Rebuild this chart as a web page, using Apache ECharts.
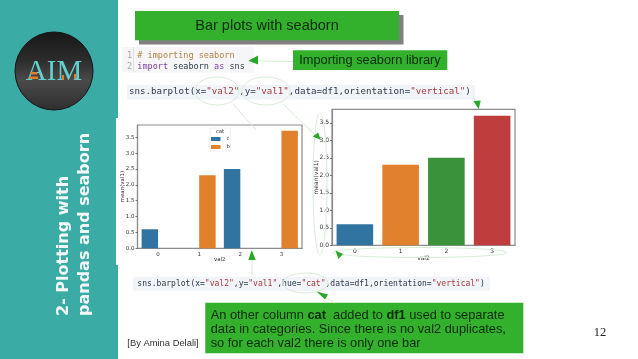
<!DOCTYPE html>
<html>
<head>
<meta charset="utf-8">
<style>html,body{margin:0;padding:0;background:#fff}#c{width:638px;height:359px}</style>
<script src="https://cdn.jsdelivr.net/npm/echarts@6/dist/echarts.min.js"></script>
</head>
<body>
<div id="c"></div>
<script>
const categories = ['0', '1', '2', '3'];
const val1 = [0.6, 2.3, 2.5, 3.7];
const hueC = [0.6, null, 2.5, null];
const hueB = [null, 2.3, null, 3.7];
const yTicks = [0, 0.5, 1, 1.5, 2, 2.5, 3, 3.5];
const yMax = 3.885;
const palette = ['#3274a1', '#e1812c', '#3a923a', '#c03d3e'];

const GREEN = '#33b02c', PALE = '#d6eed6', ARROW = '#2aa82a', SPINE = '#8c8c8c', AXT = '#333';
const SANS = '"Liberation Sans", sans-serif', MONO = '"DejaVu Sans Mono", monospace', DV = '"DejaVu Sans", sans-serif';
const rect = (x, y, w, h, fill, extra) => ({type:'rect', shape:{x, y, width:w, height:h}, style:Object.assign({fill}, extra||{}), silent:true});
const text = (x, y, t, st, extra) => Object.assign({type:'text', x, y, silent:true, style:Object.assign({text:t, verticalAlign:'middle', textAlign:'left'}, st)}, extra||{});
const tri = (p) => ({type:'polygon', shape:{points:p}, style:{fill:ARROW}, z:20, silent:true});
const ell = (cx, cy, rx, ry) => ({type:'ellipse', shape:{cx, cy, rx, ry}, style:{fill:null, stroke:PALE, lineWidth:1}, z:5, silent:true});
const seg = (x1, y1, x2, y2) => ({type:'line', shape:{x1, y1, x2, y2}, style:{stroke:PALE, lineWidth:1}, z:5, silent:true});

const codeRich = (size) => ({
  n:{fontFamily:MONO, fontSize:size, fill:'#2b3a4a'},
  s:{fontFamily:MONO, fontSize:size, fill:'#a8383a'},
  c:{fontFamily:MONO, fontSize:size, fill:'#b5823f'},
  k:{fontFamily:MONO, fontSize:size, fill:'#7a3ea0'}
});
const boxRich = {
  r:{fontFamily:SANS, fontSize:12.8, fill:'#0b2b0b'},
  b:{fontFamily:SANS, fontSize:12.8, fontWeight:'bold', fill:'#0b2b0b'}
};

const graphics = [
  // sidebar
  rect(0, 0, 118, 359, '#3aaba5'),
  rect(116, 118, 2, 147, '#ffffff'),
  // logo
  {type:'circle', shape:{cx:54, cy:71, r:39}, silent:true,
   style:{stroke:'#141414', lineWidth:1, fill:{type:'linear', x:0, y:0, x2:0, y2:1, colorStops:[
     {offset:0, color:'#171717'}, {offset:0.35, color:'#2b2b2b'}, {offset:0.62, color:'#4a4a4a'}, {offset:1, color:'#2e2e2e'}]}}},
  text(54, 72, 'AIM', {fontFamily:'"Liberation Serif", serif', fontSize:29, fill:'#62cfcd', textAlign:'center'}),
  rect(30.5, 72, 6.5, 2.5, '#e27d2c'), rect(29.5, 76.5, 8.5, 2.5, '#e27d2c'),
  rect(62, 75, 2, 5, '#e27d2c'), rect(74, 74, 2, 5, '#e27d2c'),
  // sidebar title
  text(63.5, 316, '2- Plotting with', {fontFamily:DV, fontWeight:'bold', fontSize:16, fill:'#f2f8f7'}, {rotation:Math.PI/2}),
  text(84.5, 316, 'pandas and seaborn', {fontFamily:DV, fontWeight:'bold', fontSize:16, fill:'#f2f8f7'}, {rotation:Math.PI/2}),
  // title box
  rect(139, 15, 264.5, 29.5, '#808080'),
  rect(135, 11, 264, 29.3, GREEN),
  text(267, 26, 'Bar plots with seaborn', {fontFamily:SANS, fontSize:14.5, fill:'#0b2b0b', textAlign:'center'}),
  // import code
  rect(122, 47, 132, 25.5, '#f6f6f8'),
  rect(133, 47, 0.8, 25.5, '#dcdcdc'),
  text(127, 56, '1', {fontFamily:MONO, fontSize:8.5, fill:'#a8a8a8'}),
  text(127, 66.5, '2', {fontFamily:MONO, fontSize:8.5, fill:'#a8a8a8'}),
  text(137.3, 56, '{c|# importing seaborn}', {rich:codeRich(8.5)}),
  text(137.3, 66.5, '{k|import}{n| seaborn }{k|as}{n| sns}', {rich:codeRich(8.5)}),
  // import label
  rect(293, 50.3, 154.3, 19.7, GREEN),
  text(370, 60.5, 'Importing seaborn library', {fontFamily:SANS, fontSize:12.8, fill:'#0b2b0b', textAlign:'center'}),
  seg(257, 61, 293, 61.5),
  tri([[248.3, 60.7], [258, 55.5], [258, 64.5]]),
  // first code
  rect(127, 85, 348, 14.5, '#f1f4f9'),
  text(129, 92, '{n|sns.barplot(x=}{s|"val2"}{n|,y=}{s|"val1"}{n|,data=df1,orientation=}{s|"vertical"}{n|)}', {rich:codeRich(9.17)}),
  // second code
  rect(133, 276.7, 357, 14, '#f1f4f9'),
  text(137.3, 283.5, '{n|sns.barplot(x=}{s|"val2"}{n|,y=}{s|"val1"}{n|,hue=}{s|"cat"}{n|,data=df1,orientation=}{s|"vertical"}{n|)}', {rich:codeRich(8.03)}),
  // explanation box
  rect(205.3, 302.7, 318, 50.6, GREEN),
  text(210.7, 315, '{r|An other column }{b|cat}{r|  added to }{b|df1}{r| used to separate}', {rich:boxRich}),
  text(210.7, 329.3, '{r|data in categories. Since there is no val2 duplicates,}', {rich:boxRich}),
  text(210.7, 343.7, '{r|so for each val2 there is only one bar}', {rich:boxRich}),
  text(127.3, 343, '[By Amina Delali]', {fontFamily:SANS, fontSize:9.4, fill:'#333'}),
  text(600, 333, '12', {fontFamily:'"Liberation Serif", serif', fontSize:12.5, fill:'#222', textAlign:'center'}),
  // annotation ellipses and connectors
  ell(217, 91, 22, 14), ell(266, 91, 24, 14),
  ell(320, 184, 7, 71), ell(420, 252.5, 87, 5), ell(305.5, 283, 22.5, 10),
  seg(283, 104, 314, 134), seg(233, 104, 256, 130),
  seg(252, 260, 252, 275), seg(326, 298, 335, 303), seg(475, 100, 473, 96),
  // arrowheads
  tri([[478.7, 109.3], [473.3, 101], [480.7, 100.5]]),
  tri([[251.7, 250], [248.3, 260], [255.7, 260]]),
  tri([[321, 140], [312.7, 136.5], [318, 132.5]]),
  tri([[335.5, 250.5], [343, 254], [338.5, 259]]),
  tri([[325, 299.5], [316.5, 291.5], [328, 294.5]]),
  // legend frame and title
  Object.assign(rect(210, 128, 20.5, 23, '#ffffff', {stroke:'#ececec', lineWidth:0.8}), {z:3}),
  text(220, 131.7, 'cat', {fontFamily:DV, fontSize:5.3, fill:AXT, textAlign:'center'}, {z:6})
];

const xAxisFor = (grid, size, gap) => ({
  type:'category', gridIndex:grid, data:categories, name:'val2', nameLocation:'middle', nameGap:gap, nameMoveOverlap:false,
  nameTextStyle:{fontFamily:DV, fontSize:size, color:AXT},
  axisLine:{lineStyle:{color:SPINE, width:1.2}},
  axisTick:{alignWithLabel:true, length:2, lineStyle:{color:'#444', width:0.7}},
  axisLabel:{fontFamily:DV, fontSize:size, color:AXT, margin:3}
});
const yAxisFor = (grid, size, gap) => ({
  type:'value', gridIndex:grid, min:0, max:yMax, interval:0.5, name:'mean(val1)', nameLocation:'middle', nameGap:gap, nameMoveOverlap:false,
  nameTextStyle:{fontFamily:DV, fontSize:size, color:AXT},
  splitLine:{show:false},
  axisLine:{show:true, lineStyle:{color:SPINE, width:1.2}},
  axisTick:{show:true, length:2, customValues:yTicks, lineStyle:{color:'#444', width:0.7}},
  axisLabel:{fontFamily:DV, fontSize:size, color:AXT, margin:3, customValues:yTicks, formatter:(v) => v.toFixed(1)}
});

const chart = echarts.init(document.getElementById('c'), null, {renderer:'canvas', width:638, height:359});
chart.setOption({
  animation:false,
  backgroundColor:'#ffffff',
  graphic:graphics.map(g => g.z === undefined ? Object.assign({z:-1}, g) : g),
  grid:[
    {left:137.5, top:125, width:164.5, height:123.3, show:true, borderColor:SPINE, borderWidth:1.2, backgroundColor:'#fff'},
    {left:332, top:109.3, width:183, height:136, show:true, borderColor:SPINE, borderWidth:1.2, backgroundColor:'#fff'}
  ],
  xAxis:[xAxisFor(0, 5.5, 8), xAxisFor(1, 6, 10)],
  yAxis:[yAxisFor(0, 5.5, 12), yAxisFor(1, 6, 13)],
  legend:{
    orient:'vertical', left:211, top:136.5, padding:0, itemWidth:9.5, itemHeight:4, itemGap:3,
    data:['c', 'b'], icon:'rect',
    textStyle:{fontFamily:DV, fontSize:5.3, color:AXT, padding:[0, 0, 0, 1]}
  },
  series:[
    {name:'c', type:'bar', xAxisIndex:0, yAxisIndex:0, data:hueC, barCategoryGap:'20%', barGap:0, itemStyle:{color:palette[0]}},
    {name:'b', type:'bar', xAxisIndex:0, yAxisIndex:0, data:hueB, itemStyle:{color:palette[1]}},
    {name:'val1', type:'bar', xAxisIndex:1, yAxisIndex:1, barCategoryGap:'20%',
     data:val1.map((v, i) => ({value:v, itemStyle:{color:palette[i]}}))}
  ]
});
</script>
</body>
</html>
